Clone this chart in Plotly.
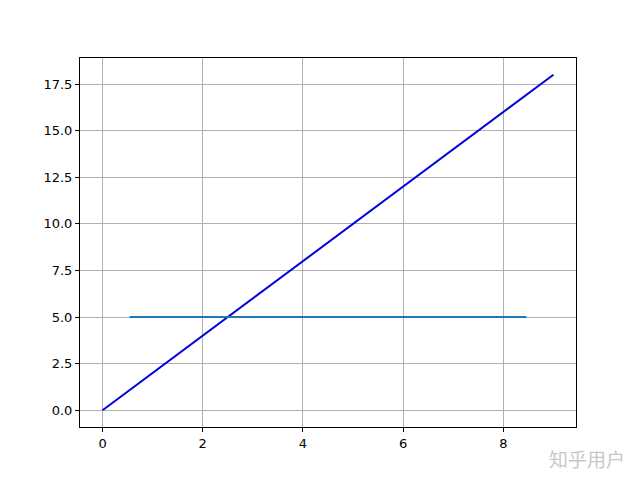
import plotly.graph_objects as go

# data
x_vals = [0, 1, 2, 3, 4, 5, 6, 7, 8, 9]
y_vals = [0, 2, 4, 6, 8, 10, 12, 14, 16, 18]
hline_y = 5
hline_span = [0.1, 0.9]  # fraction of the axes width (axhline xmin/xmax)

x_ticks = [0, 2, 4, 6, 8]
y_ticks = [0, 2.5, 5, 7.5, 10, 12.5, 15, 17.5]

fig = go.Figure()
fig.add_trace(go.Scatter(x=x_vals, y=y_vals, mode="lines",
                         line=dict(color="#0000e0", width=2), showlegend=False))

fig.add_shape(type="line", xref="x domain", yref="y",
              x0=hline_span[0], x1=hline_span[1], y0=hline_y, y1=hline_y,
              line=dict(color="#1f77b4", width=2))

axis_style = dict(showline=True, mirror=True, linecolor="black", linewidth=1,
                  showgrid=True, gridcolor="#b0b0b0", gridwidth=1,
                  ticks="outside", ticklen=4, tickcolor="black", zeroline=False,
                  tickfont=dict(family="DejaVu Sans", size=13, color="black"))

fig.update_xaxes(range=[-0.45, 9.45], tickvals=x_ticks, **axis_style)
fig.update_yaxes(range=[-0.9, 18.9], tickvals=y_ticks, tickformat=".1f", **axis_style)

# watermark
fig.add_annotation(text="知乎用户", xref="paper", yref="paper", x=1.102, y=-0.086,
                   showarrow=False, xanchor="right", yanchor="middle",
                   font=dict(family="Noto Sans CJK SC", size=19, color="#c8c8c8"))

# page body adds an 8px offset, so the figure is sized to compensate
fig.update_layout(width=632, height=472, plot_bgcolor="white", paper_bgcolor="white",
                  margin=dict(l=72, r=64, t=50, b=53))

fig.write_html("out.html")
